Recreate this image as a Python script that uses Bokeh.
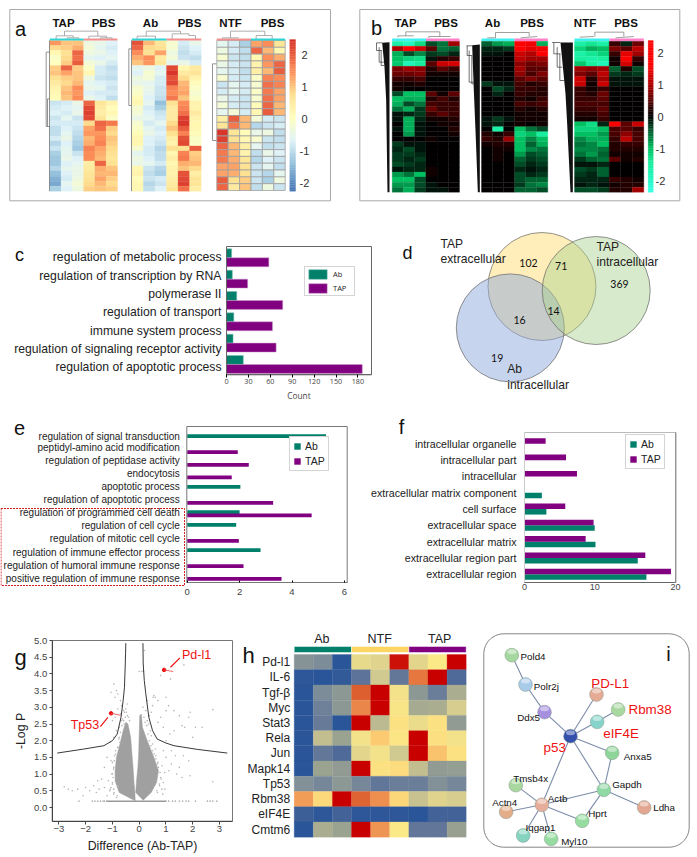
import numpy as np
from bokeh.embed import file_html
from bokeh.resources import INLINE
from bokeh.plotting import figure
from bokeh.layouts import row, column
from bokeh.models import (Range1d, LinearColorMapper, ColumnDataSource, Legend, LegendItem,
                          FixedTicker, LinearAxis)
from bokeh.core.properties import value

# ---------- DATA ----------
a_tap = [[1.4,1.0,1.0,-0.4,-0.5,-0.7],[0.8,0.9,1.2,-0.3,-0.6,-0.8],[0.2,0.7,1.9,-0.4,-0.5,-0.7],[-0.1,0.8,1.8,-0.6,-0.7,-0.6],
[0.0,0.9,2.0,-0.3,-0.5,-0.8],[0.9,1.9,0.9,-0.1,-0.8,-1.0],[1.0,1.3,1.0,0.2,-0.8,-0.9],[0.7,0.9,1.0,-0.4,-0.9,-1.0],
[0.5,0.8,1.1,-0.6,-0.7,-0.8],[0.3,1.0,1.5,-0.5,-0.6,-0.9],[0.2,1.1,1.4,-0.7,-0.8,-0.8],[0.1,1.0,1.5,-0.5,-0.7,-1.0],
[-0.9,-0.8,-0.5,1.9,0.6,0.3],[-0.8,-0.7,-0.6,2.2,0.5,0.1],[-0.7,-0.8,-0.5,2.3,0.4,0.2],[-0.9,-0.6,-0.9,2.2,0.6,-0.1],
[-0.8,-0.8,-0.8,0.8,1.9,1.7],[-1.0,-0.7,-0.9,1.3,1.8,0.9],[-1.0,-0.6,-1.0,1.4,1.4,0.8],[-0.8,-0.5,-1.1,1.1,1.5,1.0],
[-1.1,-0.7,-1.2,1.2,1.6,0.9],[-0.9,-0.6,-1.3,1.6,1.3,0.8],[-1.2,-0.6,-0.9,1.5,1.2,0.7],[-1.3,-0.5,-0.7,1.5,1.1,0.6],
[-1.3,-0.7,-0.6,0.4,1.9,0.7],[-1.1,-0.6,-0.5,0.5,1.2,1.0],[-1.4,-0.7,-0.5,0.6,1.1,1.1],[-1.6,-0.8,-0.4,0.7,1.3,0.9],
[-1.7,-0.6,-0.3,0.8,1.1,0.8],[-1.2,-0.7,-0.4,0.9,1.0,0.9]]
a_ab = [[2.1,1.1,0.6,-0.2,-0.8,-0.5],[1.9,0.8,0.7,-0.2,-0.9,-0.7],[1.5,0.7,1.3,-0.4,-1.0,-0.8],[1.2,1.5,0.5,-0.3,-0.9,-1.0],
[1.0,1.4,0.6,-0.6,-0.5,-0.8],[-0.6,-0.4,-0.7,2.2,0.2,0.5],[-0.7,-0.2,-0.6,2.4,0.5,0.6],[-0.4,-0.3,-0.8,2.1,0.8,0.3],
[-0.5,-0.6,-0.8,2.2,1.1,0.1],[-0.2,-0.5,-0.9,1.6,1.2,-0.1],[-0.1,-0.6,-0.9,1.5,1.3,-0.2],[0.1,-0.7,-1.0,1.7,1.0,-0.1],
[0.2,-0.6,-1.4,0.7,1.5,0.3],[-0.2,-0.8,-1.2,0.5,1.6,0.3],[-0.3,-0.7,-0.9,0.5,1.8,0.5],[-0.5,-0.6,-0.8,0.5,2.3,0.3],
[-0.2,-0.8,-0.6,0.8,2.4,0.2],[-0.1,-0.6,-0.8,1.0,2.0,0.2],[0.1,-0.5,-0.7,0.7,1.6,0.1],[0.2,-0.7,-0.8,0.4,2.1,-0.1],
[0.2,-0.7,-0.9,0.3,2.2,-0.1],[-0.2,-0.8,-1.1,0.7,0.7,2.0],[-0.6,-0.8,-1.0,0.2,1.6,0.9],[-0.4,-0.7,-1.0,0.4,1.7,1.0],
[-0.5,-0.6,-0.8,0.2,1.2,1.1],[0.2,-0.9,-1.1,0.3,1.0,0.8],[0.3,-1.0,-1.2,0.3,2.1,0.4],[0.1,-0.9,-0.8,0.4,2.2,0.6],
[0.2,-1.1,-0.9,0.5,2.3,0.6],[0.2,-1.0,-0.7,0.6,1.8,0.4]]
a_ntf = [[-0.6,-0.8,-1.2,1.3,1.5,0.6],[-0.4,-0.8,-1.0,1.9,1.1,0.2],[-0.2,-0.9,-1.0,0.2,1.5,1.2],[-0.5,-0.8,-0.9,0.3,1.4,1.9],
[-0.6,-0.8,-1.0,0.4,1.1,2.0],[-0.2,-0.8,-0.9,-0.1,1.6,1.5],[-0.9,-0.6,-0.8,-0.2,1.8,1.6],[-0.8,-0.6,-0.8,-0.1,1.7,1.3],
[-0.5,-0.8,-0.9,-0.2,1.8,1.3],[-0.3,-0.8,-0.9,0.1,1.9,1.1],[-0.6,-0.3,-0.8,0.2,2.0,1.1],[0.4,2.0,1.1,-0.3,-0.8,-0.9],
[0.6,1.7,1.1,-1.1,-0.9,-0.8],[2.4,0.6,0.1,-0.5,-0.4,-1.0],[2.3,0.7,0.2,-0.2,-0.9,-1.0],[1.9,1.1,0.4,-0.6,-1.0,-0.9],
[1.7,1.1,0.3,-1.0,-0.5,-0.7],[1.7,1.2,0.6,-1.1,-0.7,-0.9],[1.3,1.3,0.7,-0.9,-0.6,-1.0],[1.3,1.2,0.7,-0.9,-1.1,-0.6],
[2.0,0.7,0.9,-0.9,-1.2,-0.4],[1.9,0.5,1.0,-1.0,-0.4,-0.9]]
b_tap = [[-1.6,-1.9,-1.3,-0.4,-0.6,0.9],[1.0,1.6,1.2,0.5,-0.6,-0.5],[-0.9,-0.4,-0.7,-0.3,-0.4,-0.2],[-1.0,-1.2,-1.3,-0.1,0.2,0.3],
[-1.1,-1.8,-1.5,0.5,1.2,1.3],[0.7,0.9,0.8,0.2,0.5,0.3],[0.6,0.6,0.7,0.1,0.1,0.1],[0.3,0.3,0.4,0,0,0],[0.1,0.1,0.2,0,0,0],
[0.1,0,0,0,0,0],[-0.4,-1.0,-1.0,0.5,0.1,0.5],[-1.0,-0.9,-0.9,0.2,0.4,0.2],[-0.9,-0.4,-0.6,0.4,0.3,0.3],[-0.6,-0.9,-0.3,0.6,0.3,0.3],
[-0.1,-0.2,-0.3,0.3,0.5,0.3],[-0.1,-0.9,-0.2,0.1,0.1,0.2],[0,-0.9,-0.1,0,0.1,0.1],[-0.1,-0.9,-0.1,0,0,0.2],[0,-0.8,-0.1,0,0,0.1],
[0,0,0,0.1,0,0],[-0.3,-0.1,-0.1,0,0,0],[-0.2,-0.4,-0.1,0,0,0],[-0.3,-0.3,-0.2,0,0,0],[-0.3,-0.2,-0.3,0,0,0],[-0.4,-0.3,-0.2,0,0,0],
[-0.1,-0.2,-0.2,0.1,0,0],[-0.8,-0.6,-1.0,0.1,0,0],[-1.0,-1.0,-0.4,0,0,0],[-0.8,-0.8,-0.4,-0.1,0,0],[-0.6,-0.9,-0.3,-0.1,-0.1,0]]
b_ab = [[-0.5,-0.8,-0.9,1.8,1.5,-0.9],[-0.2,-0.2,-0.3,1.6,1.4,1.5],[-0.1,-0.1,0,1.2,1.0,1.6],[0,0,0,1.1,0.9,0.9],[0,0,0,0.8,0.6,0.7],
[0,0,0,0.9,0.5,0.5],[0,0,0,0.8,0.4,0.7],[0,0,0,0.5,0.7,0.5],[-0.3,-0.1,-0.1,0.4,0.2,0.3],[0,-0.4,-0.2,0.3,0.3,0.2],[0,-0.2,0,0.3,0.2,0.2],
[0,0,0,0.2,0.1,0.3],[0,0,0,0.4,0.3,0.4],[0,0,0,0.2,0.1,0.2],[0,0,0,0.1,0.1,0.1],[-0.1,-0.3,-0.1,0.1,0.1,0.1],[-0.1,-0.2,0,0.1,0,0.1],
[0,-1.6,0,-1,-0.6,-0.4],[0.2,0.1,0.3,-1.2,-1.0,-1.5],[0.3,0.2,0.9,-1,-0.7,-1],[0.1,0.2,0.2,-1,-0.5,-0.9],[0,0.1,0.1,-1.0,-0.7,-0.6],
[0,0.1,0,-0.8,-0.4,-0.5],[0,0.1,0,-0.5,-0.3,-0.4],[0,0,0,-0.4,-0.2,-0.3],[0,0,0,-0.2,-0.1,-0.2],[0,0,0,-0.4,-0.2,-0.3],
[0,0,0,-0.4,-0.5,-0.5],[0,0,0,-0.3,-0.6,-0.7],[0,0,0,-0.5,-0.5,-0.4]]
b_ntf = [[-1.6,-1.4,-1.6,0.3,-0.2,0.6],[-1.2,-0.9,-1.0,0.7,0.5,1.1],[-1.6,-1.4,-1.2,0.3,1.4,0.9],[-1.5,-1.6,-1.5,0.1,1.8,0.3],
[-1.1,-1.5,-1.8,0.1,1.3,0.1],[0.9,0.8,0.9,-0.5,0.2,-0.4],[0.7,0.5,1.1,-0.3,-0.2,-0.3],[1.2,0.2,0.9,-0.1,-0.1,-0.1],[1.2,0.1,1.2,-0.1,-0.1,-0.1],
[0.3,0.1,0.3,0,0,0],[0.3,0.2,0.6,0,0,0],[0.3,0.3,0.5,0,0,0],[0.4,0.4,0.4,0,0,0],[0.3,0.3,0.5,0,0,0],[0.2,0.2,0.4,0,0,0],[0.1,0.1,0.3,0,0,0],
[-1.0,-1.3,-0.2,1.6,0.5,1.2],[-1.2,-1.2,-1.0,0.4,0.5,0.3],[-1,-1,-0.8,0.4,0.8,0.4],[-0.7,-0.9,-0.9,0.3,1.1,0.4],[-0.6,-0.7,-1.0,0.2,0.3,0.3],
[-0.7,-0.7,-0.6,0.2,0.2,0.2],[-0.6,-0.8,-0.5,0.1,0.1,0.1],[-0.3,-0.5,-0.6,0.5,0.1,0.2],[-0.1,-0.1,-0.2,0,0,0],[-0.4,-0.3,-0.5,0,0,0],
[-0.3,-0.2,-0.5,0,0,0],[-0.2,-0.2,-0.2,0.3,0.2,0.1],[-0.1,-0.2,-0.1,0.1,0.2,0.2],[-0.4,-0.4,-0.3,0.2,0.2,0.9]]

c_labels = ["regulation of metabolic process","regulation of transcription by RNA","polymerase II","regulation of transport",
            "immune system process","regulation of signaling receptor activity","regulation of apoptotic process"]
c_ab = [7,8,14,10,9,23]
c_tap = [58,29,77,63,68,186]
c_ticks = [0,30,60,90,120,150,180]

e_labels = ["regulation of signal transduction","peptidyl-amino acid modification","regulation of peptidase activity","endocytosis",
            "apoptotic process","regulation of apoptotic process","regulation of programmed cell death","regulation of cell cycle",
            "regulation of mitotic cell cycle","regulation of immune effector process","regulation of humoral immune response",
            "positive regulation of immune response"]
e_ab = [5.3,0,0,0,2.03,0,2.0,1.87,0,2.8,0,0]
e_tap = [0,1.93,2.35,1.7,0,3.28,4.75,0,1.97,0,2.15,3.6]

f_labels = ["intracellular organelle","intracellular part","intracellular","extracellular matrix component","cell surface",
            "extracellular space","extracellular matrix","extracellular region part","extracellular region"]
f_tap = [2.8,5.5,6.95,0,5.4,9.15,8.1,16,19.4]
f_ab = [0,0,0,2.3,2.9,9.3,9.4,15,16.15]

g_line_lx = [-0.50,-0.51,-0.52,-0.55,-0.60,-0.68,-0.82,-1.0,-1.32,-2.07,-3.06]
g_line_ly = [4.92,4.6,4.3,3.6,3.2,2.7,2.2,2.0,1.85,1.75,1.63]
g_line_rx = [0.14,0.145,0.15,0.19,0.24,0.36,0.50,0.67,1.0,1.3,2.17,3.29]
g_line_ry = [4.92,4.6,4.3,3.8,3.45,2.7,2.3,2.05,1.93,1.85,1.74,1.63]
g_left_x = [-0.15,-0.75,-0.9,-0.9,-0.85,-0.72,-0.6,-0.5,-0.42,-0.32,-0.27,-0.22,-0.19,-0.16]
g_left_y = [0.2,0.45,0.8,1.1,1.5,1.9,2.3,2.55,2.5,2.1,1.6,1.1,0.7,0.45]
g_right_x = [-0.13,-0.1,-0.05,-0.02,0.0,0.02,0.08,0.12,0.3,0.55,0.72,0.65,0.45,0.15]
g_right_y = [0.45,0.8,1.2,1.6,2.2,2.75,2.8,2.4,2.0,1.5,1.1,0.75,0.45,0.22]
g_x = [0.16,0.1,0.0,0.2,0.8,1.17,1.67,0.55,0.6,0.7,0.52,1.0,1.1,0.5,0.45,0.8,1.0,1.3,1.5,1.9,2.75,1.85,2.1,2.35,1.6,1.7,2.0,1.3,1.15,0.9,0.7,
       1.0,1.2,1.35,1.65,1.85,1.5,1.2,1.9,2.75,1.4,1.6,1.1,1.0,0.9,0.85,0.95,0.8,0.75,0.7,0.85,0.6,0.5,0.42,0.35,0.3,0.25,0.38,0.45,0.62,0.68,
       -0.95,-0.85,-0.8,-0.9,-1.05,-0.7,-0.65,-0.8,-0.9,-0.7,-1.0,-0.75,-0.85,-0.95,-1.1,-1.2,-1.05,-1.3,-1.0,-1.4,-1.55,-1.15,-1.7,-2.0,-2.3,-2.5,
       -2.8,-2.65,-1.5,-1.3,-1.6,-1.85,-2.1,-1.2,-1.1,-1.0,-0.95,-0.98,-0.88,-1.05,-0.75,-0.62,-0.55,-0.58,-0.66,-0.45,-0.5,-0.72,-0.8,-0.92,-1.0,-0.95,-0.85,-0.78,
       0.72,0.78,0.82,0.76,0.68,0.62,0.56,0.5,0.44,0.38,0.33,0.28,0.22,0.18,0.3,0.14,0.66,0.9,0.96,0.88,
       -0.95,-1.0,-1.02,-0.96,-0.93,-0.88,-0.8,-0.76,-0.7,-0.64,-0.58,-0.52,-0.56,-0.48,-0.44,-0.4,-0.36,-0.94,-1.08,-0.82]
g_y = [4.08,4.08,4.07,4.7,3.95,3.85,4.27,3.35,3.3,3.2,3.3,3.3,3.05,3.05,2.85,2.7,2.9,2.9,2.75,2.85,2.93,2.7,2.4,2.4,2.45,2.4,2.1,2.3,2.2,2.4,2.55,
       2.0,1.7,1.55,1.55,1.4,1.2,1.3,0.95,0.77,1.0,0.9,1.1,1.5,1.7,1.25,1.05,0.9,0.7,1.35,0.55,1.75,1.9,2.3,2.5,2.6,2.9,2.75,2.15,1.55,0.45,
       3.7,3.5,3.4,3.3,3.45,3.2,3.05,2.95,2.7,2.8,2.6,2.4,2.3,2.1,1.95,1.5,1.4,1.2,1.0,0.85,0.8,0.8,0.65,0.6,0.55,0.5,
       0.62,0.55,0.55,0.6,0.45,0.5,0.35,0.35,0.5,0.7,1.2,0.9,1.7,0.6,2.1,2.65,2.85,2.9,2.6,3.1,2.95,1.95,1.8,1.55,1.35,0.4,0.3,0.65,
       1.2,1.05,0.85,0.65,1.3,1.45,1.6,1.7,1.85,2.0,2.2,2.45,2.55,2.7,3.2,3.0,0.5,0.75,0.55,0.4,
       0.55,0.75,1.0,1.15,1.4,1.6,1.8,2.05,2.25,2.45,2.6,2.7,2.5,2.85,2.75,2.7,2.6,0.45,0.55,0.35]
g_base_x = [-2.25,-1.75,-1.65,-1.55,-1.45,-1.35,-1.22,-1.3,1.0,1.1,1.25,1.35,1.5,1.62,1.75,1.85,2.1,2.55,2.65,2.75,2.9]
g_base_span = [-1.2,1.0]
g_base_y = 0.19
g_xticks = [-3,-2,-1,0,1,2,3]
g_yticks = [0.0,0.5,1.0,1.5,2.0,2.5,3.0,3.5,4.0,4.5,5.0]

h_rows = ["Pd-l1","IL-6","Tgf-\u03b2","Myc","Stat3","Rela","Jun","Mapk14","Tp53","Rbm38","eIF4E","Cmtm6"]
h_groups = ["Ab","NTF","TAP"]
h_values = [[2.3,2,0,4.5,4.3,8.8,4.4,5,9],[0.1,0,0.2,1.1,4,1.3,7.5,9,0.8],[0,2,2.5,8,9,4.8,2.5,1.5,3.3],[0,1.6,2.5,7.2,9,4.9,3.2,3.3,4.1],
[0,1.4,0,9,3.6,5.3,4.6,5.3,2.7],[0,3.7,3,4.8,6.1,5.1,9,5.4,4.8],[0,1.3,0.8,4.4,4.8,4,9,6.2,5.3],[0,3,2.7,9,5.3,5.5,3.7,2.7,2.8],
[2.2,1.8,2.5,1.8,1.2,1.5,1.5,2.2,1.8],[6.8,5.6,9,7.9,7,5.7,3.8,4.3,4.1],[0.4,0.1,0.5,0.1,0.1,0.1,0,0.5,0.5],[0,3.3,3,9,6.9,5,1.2,1.2,2.9]]

i_names = ["Pold4","Polr2j","Ddx5","PD-L1","Rbm38","eIF4E","p53","Anxa5","Gapdh","Ldha","Actb","Hprt","Tmsb4x","Actn4","Iqgap1","Myl10"]
i_edges = [("Pold4","Polr2j"),("Polr2j","Ddx5"),("Ddx5","p53"),("p53","PD-L1"),("p53","eIF4E"),("eIF4E","Rbm38"),("p53","Anxa5"),("p53","Gapdh"),
           ("Anxa5","Gapdh"),("p53","Actb"),("Gapdh","Actb"),("Gapdh","Ldha"),("Gapdh","Hprt"),("Actb","Tmsb4x"),("Actb","Actn4"),("Actb","Iqgap1"),("Actb","Myl10"),("Actb","Hprt")]

d_numbers = ["102","71","369","16","14","19"]

# ---------- STYLE ----------
SANS = "Liberation Sans"
AB = "#00806a"
TAP = "#800080"

def interp_palette(stops, n=256):
    pos = np.array([s[0] for s in stops], float)
    rgb = np.array([[int(s[1][i:i+2], 16) for i in (1, 3, 5)] for s in stops], float)
    t = np.linspace(pos[0], pos[-1], n)
    return ["#%02x%02x%02x" % tuple(int(round(np.interp(v, pos, rgb[:, k]))) for k in range(3)) for v in t]

map_a = LinearColorMapper(palette=interp_palette([(-2.27,"#4575b4"),(-1.45,"#91bfdb"),(-0.7,"#e0f3f8"),(0.0,"#ffffbf"),(0.75,"#fee090"),(1.5,"#fc8d59"),(2.47,"#d73027")]),
                          low=-2.27, high=2.47)
map_b = LinearColorMapper(palette=interp_palette([(-2.35,"#2effe0"),(-1.5,"#18f0a0"),(-1.0,"#00c060"),(-0.5,"#006030"),(0,"#000000"),(0.5,"#5a0000"),(1.0,"#b00000"),(1.6,"#ff0000"),(2.35,"#ff0000")]),
                          low=-2.35, high=2.35)
map_h = LinearColorMapper(palette=interp_palette([(0,"#2a5598"),(1,"#5a7099"),(2,"#7d8d99"),(3,"#9aa290"),(4,"#d2ca90"),(5,"#fbe887"),(6,"#fcd175"),(7,"#ee9050"),(8,"#dd5f30"),(9,"#c80000")]),
                          low=0, high=9)

def canvas(x0, y0, w, h):
    p = figure(width=w, height=h, x_range=Range1d(x0, x0+w), y_range=Range1d(y0+h, y0), x_axis_type=None, y_axis_type=None,
               output_backend="svg", toolbar_location=None, min_border=0, outline_line_color=None)
    p.grid.visible = False
    return p

class Panel:
    """A figure whose frame fills it; data scales are set so that the plot area lands where the reference has it."""
    def __init__(self, x0, y0, w, h, xa, xb, ya, yb):
        self.xa, self.xb, self.ya, self.yb = xa, xb, ya, yb
        self.p = figure(width=w, height=h, x_range=Range1d((x0-xa)/xb, (x0+w-xa)/xb),
                        y_range=Range1d((y0+h-ya)/yb, (y0-ya)/yb), x_axis_type=None, y_axis_type=None,
                        output_backend="svg", toolbar_location=None, min_border=0, outline_line_color=None)
        self.p.grid.visible = False
    def X(self, px): return (px-self.xa)/self.xb
    def Y(self, py): return (py-self.ya)/self.yb
    def frame(self, l, r, t, b, color, dash="solid", width=1):
        self.p.quad(left=self.X(l), right=self.X(r), top=self.Y(t), bottom=self.Y(b), fill_color=None, line_color=color, line_dash=dash, line_width=width)
    def letter(self, x, y, s, size):
        txt(self.p, self.X(x), self.Y(y), s, size)
    def label_axis(self, frame_left, ticks, labels, size, standoff):
        ax = LinearAxis(ticker=FixedTicker(ticks=ticks), major_label_overrides={float(t): s for t, s in zip(ticks, labels)},
                        fixed_location=self.X(frame_left), major_label_text_font=SANS, major_label_text_font_size=f"{size}px",
                        major_label_text_color="#222222", major_label_standoff=standoff, major_tick_line_color=None,
                        major_tick_out=0, major_tick_in=0, minor_tick_line_color=None, axis_line_color=None)
        self.p.add_layout(ax, "left")
    def bottom_axis(self, frame_bottom, l, r, ticks, overrides=None, **kw):
        ax = LinearAxis(ticker=FixedTicker(ticks=ticks), fixed_location=self.Y(frame_bottom), bounds=(self.X(l), self.X(r)),
                        minor_tick_line_color=None, **kw)
        if overrides:
            ax.major_label_overrides = overrides
        self.p.add_layout(ax, "below")
        return ax

def txt(p, x, y, s, size, color="#111111", font=SANS, bold=False, align="center"):
    p.text([x], [y], text=[s], text_font=value(font), text_font_size=f"{size}px", text_color=color,
           text_align=align, text_baseline="middle", text_font_style="bold" if bold else "normal")

def heat(p, M, x0, x1, y0, y1, mapper, line=None, lw=0.3):
    M = np.array(M)
    nr, nc = M.shape
    xs = np.linspace(x0, x1, nc+1); ys = np.linspace(y0, y1, nr+1)
    rr, cc = np.indices(M.shape)
    src = ColumnDataSource(dict(left=xs[cc.ravel()], right=xs[cc.ravel()+1], top=ys[rr.ravel()], bottom=ys[rr.ravel()+1], v=M.ravel()))
    tr = {"field": "v", "transform": mapper}
    p.quad(left="left", right="right", top="top", bottom="bottom", source=src, fill_color=tr,
           line_color=line if line else tr, line_width=lw)

def colorbar(p, x0, x1, y0, y1, mapper):
    n = 90
    ys = np.linspace(y0, y1, n+1)
    vals = np.linspace(mapper.high, mapper.low, n)
    src = ColumnDataSource(dict(top=ys[:-1], bottom=ys[1:], v=vals))
    tr = {"field": "v", "transform": mapper}
    p.quad(left=x0, right=x1, top="top", bottom="bottom", source=src, fill_color=tr, line_color=tr, line_width=0.3)

def lines(p, segs, ox, oy, color, width=0.8, scale=3.0):
    xs = [[ox+a/scale for a, b in s] for s in segs]
    ys = [[oy+b/scale for a, b in s] for s in segs]
    p.multi_line(xs, ys, line_color=color, line_width=width)

def legend(p, r1, r2, x, y, gw, gh, size, font, lh, pad=3, sp=1):
    lg = Legend(items=[LegendItem(label="Ab", renderers=[r1]), LegendItem(label="TAP", renderers=[r2])], location=(x, y),
                glyph_width=gw, glyph_height=gh, label_text_font=font, label_text_font_size=f"{size}px", label_height=lh,
                label_standoff=4, margin=0, padding=pad, spacing=sp, border_line_color="#aaaaaa", border_line_width=1,
                background_fill_alpha=1, label_text_color="#222222")
    p.add_layout(lg)

# ---------- PANEL a ----------
pa = canvas(0, 0, 340, 218)
pa.quad(left=9.3, right=330, top=9, bottom=200.3, fill_color=None, line_color="#a8a8a8", line_width=1)
heat(pa, a_tap, 49.3, 117, 40, 190.7, map_a)
heat(pa, a_ab, 131.3, 200.7, 40, 190.7, map_a)
heat(pa, a_ntf, 216.3, 284.7, 40, 190, map_a, line="#a0a0a0", lw=0.8)
colorbar(pa, 289.3, 295, 39, 190.7, map_a)
for x0, xm, x1, c1, c2 in [(49.3, 83.2, 117, "#2fd5d5", "#f29090"), (131.3, 166, 200.7, "#2fd5d5", "#f29090"), (216.3, 250.5, 284.7, "#f29090", "#2fd5d5")]:
    pa.quad(left=x0, right=xm, top=38, bottom=40, fill_color=c1, line_color=None)
    pa.quad(left=xm, right=x1, top=38, bottom=40, fill_color=c2, line_color=None)
lines(pa, [[(167,115),(167,106),(218,106),(218,112)],[(192,106),(192,92),(292,92),(292,107)],[(265,115),(265,107),(318,107),(318,112)],
           [(200,115),(200,112),(235,112),(235,115)],[(300,115),(300,112),(335,112),(335,115)],
           [(410,115),(410,107),(465,107),(465,115)],[(437,107),(437,92),(540,92),(540,100)],[(515,115),(515,100),(565,100),(565,105),(585,105),(585,115)],
           [(665,113),(665,112),(715,112)],[(690,112),(690,92),(793,92),(793,105)],[(767,115),(767,105),(815,105),(815,115)]], 0, 0, "#999999", 0.8)
lines(pa, [[(148,155),(137,155),(137,378),(148,378)],[(148,295),(141,295),(141,378)],[(147,120),(147,572)],
           [(393,145),(385,145),(385,315),(393,315)],[(393,120),(393,572)],[(648,190),(636,190),(636,420),(648,420)]], 0, 0, "#777777", 0.8)
for x, y, s in [(63,22,"TAP"),(103,22,"PBS"),(150,22,"Ab"),(189,22,"PBS"),(230,22,"NTF"),(272,22,"PBS")]:
    txt(pa, x, y, s, 11.5, bold=True)
for y, s in [(54,"2"),(86,"1"),(118,"0"),(150,"-1"),(182,"-2")]:
    txt(pa, 304, y, s, 11, color="#333333")
txt(pa, 20, 28, "a", 20)

# ---------- PANEL b ----------
pb = canvas(340, 0, 357, 218)
pb.quad(left=359.3, right=679.3, top=9, bottom=200.3, fill_color=None, line_color="#a8a8a8", line_width=1)
heat(pb, b_tap, 391.7, 459, 40.7, 191.7, map_b)
heat(pb, b_ab, 481, 547.3, 40.7, 191.7, map_b)
heat(pb, b_ntf, 574, 643.3, 40.7, 191.7, map_b)
colorbar(pb, 647.7, 652.7, 40, 191.7, map_b)
for x0, xm, x1 in [(391.7, 425.5, 459), (481, 514, 547.3), (574, 609, 643.3)]:
    pb.quad(left=x0, right=xm, top=38, bottom=40.5, fill_color="#40f0f0", line_color=None)
    pb.quad(left=xm, right=x1, top=38, bottom=40.5, fill_color="#ff80c8", line_color=None)
for pts in [[(125,127),(147,125),(147,575),(141,575),(137,300),(132,200)],
            [(395,134),(418,132),(418,575),(412,575),(405,390),(400,270)],
            [(660,126),(697,126),(697,575),(690,575),(680,370),(675,280)]]:
    pb.patch([340+a/3 for a, b in pts], [b/3 for a, b in pts], fill_color="#111111", line_color=None)
lines(pb, [[(108,127),(125,127)],[(108,127),(108,150),(125,150)],[(116,140),(116,185),(130,185)],[(122,150),(122,195),(132,195)],
           [(378,136),(395,136)],[(380,136),(380,165),(395,165)],[(386,150),(386,245),(400,245)],[(394,165),(394,250),(400,250)],
           [(635,126),(660,126)],[(640,126),(640,160),(660,160)],[(650,140),(650,200),(665,200)],[(658,160),(658,240),(672,240)]], 340, 0, "#333333", 0.7)
lines(pb, [[(172,110),(172,106),(220,106)],[(196,106),(196,94),(298,94),(298,108)],[(265,113),(265,108),(330,108)],
           [(440,112),(465,112)],[(465,112),(465,96),(566,96),(566,108)],[(540,112),(590,108)],
           [(718,110),(760,108)],[(763,108),(763,95),(850,95),(850,108)],[(825,112),(880,108)]], 340, 0, "#777777", 0.7)
for x, y, s in [(405,22,"TAP"),(445.5,22,"PBS"),(492,22,"Ab"),(531.5,22,"PBS"),(584.5,22,"NTF"),(625.5,22,"PBS")]:
    txt(pb, x, y, s, 11.5, bold=True)
for y, s in [(52.3,"2"),(84.3,"1"),(116,"0"),(148,"-1"),(180,"-2")]:
    txt(pb, 660, y, s, 11, color="#333333")
txt(pb, 376, 27, "b", 20)

# ---------- PANEL c ----------
C = Panel(0, 218, 400, 192, 226, 0.73, 257.3, 21.33)
pc = C.p
ks = np.arange(len(c_ab))
rc1 = pc.hbar(y=ks-0.21, right=c_ab, height=0.42, left=0, fill_color=AB, line_color="#7fbfb4", line_width=0.5)
rc2 = pc.hbar(y=ks+0.21, right=c_tap, height=0.42, left=0, fill_color=TAP, line_color="#cf9fcf", line_width=0.5)
C.frame(226, 371, 246, 374.3, "#666666")
C.label_axis(226, [-0.03,0.83,1.69,2.55,3.41,4.27,5.13], c_labels, 12.2, 5)
C.bottom_axis(374.3, 226, 371, c_ticks, major_label_text_font="Open Sans", major_label_text_font_size="7.2px", major_tick_out=3,
              major_tick_in=0, major_label_standoff=1, axis_line_color="#666666", axis_label="Count", axis_label_text_font="Open Sans",
              axis_label_text_font_size="8.3px", axis_label_text_font_style="normal", axis_label_standoff=3)
legend(pc, rc1, rc2, 304, 114, 23, 12, 7.5, "Open Sans", 12, pad=1, sp=2)
C.letter(19, 254, "c", 18)

# ---------- PANEL d ----------
pd = canvas(400, 218, 297, 192)
pd.circle(x=[541.5], y=[286], radius=54, fill_color="#ffd966", fill_alpha=0.45, line_color="#666666", line_width=0.7)
pd.circle(x=[509.8], y=[327.4], radius=54, fill_color="#8faadc", fill_alpha=0.5, line_color="#666666", line_width=0.7)
pd.circle(x=[595.7], y=[290], radius=54, fill_color="#a9d18e", fill_alpha=0.45, line_color="#666666", line_width=0.7)
for (x, y), s in zip([(528,262),(560.7,265),(619,283),(519,319),(553,310),(496.7,357.7)], d_numbers):
    txt(pd, x, y, s, 10.5, font="Lato")
for x, y, s in [(440,243,"TAP"),(440,258,"extracellular"),(596,246.7,"TAP"),(596,261.7,"intracellular"),(506.7,368,"Ab"),(506.7,384,"intracellular")]:
    txt(pd, x, y, s, 12.1, align="left", color="#222222")
txt(pd, 407, 252, "d", 18)

# ---------- PANEL e ----------
E = Panel(0, 410, 360, 205, 186.7, 26.2, 437.3, 12.67)
pe = E.p
ks = np.arange(len(e_ab))
re1 = pe.hbar(y=ks-0.13, right=e_ab, height=0.3, left=0, fill_color=AB, line_color=None)
re2 = pe.hbar(y=ks+0.13, right=e_tap, height=0.3, left=0, fill_color=TAP, line_color=None)
E.frame(186.3, 346.7, 426, 582, "#777777")
E.frame(0.5, 184, 508, 585, "#d02020", dash="2 1")
E.label_axis(186.3, [-0.13,0.74,1.76,2.82,3.84,4.89,5.92,6.95,7.97,9.03,10.05,11.08], e_labels, 10.0, 7)
E.bottom_axis(582, 186.3, 346.7, [0,2,4,6], major_label_text_font=SANS, major_label_text_font_size="9.5px", major_tick_in=2, major_tick_out=0,
              major_label_standoff=6, axis_line_color="#777777")
legend(pe, re1, re2, 289, 144, 8, 8, 10.5, SANS, 9, pad=3, sp=3)
E.letter(19, 427, "e", 20)

# ---------- PANEL f ----------
F = Panel(360, 410, 337, 205, 524, 7.55, 443.33, 16.3)
pf = F.p
ks = np.arange(len(f_ab))
rf1 = pf.hbar(y=ks+0.17, right=f_ab, height=0.34, left=0, fill_color=AB, line_color=None)
rf2 = pf.hbar(y=ks-0.17, right=f_tap, height=0.34, left=0, fill_color=TAP, line_color=None)
pf.multi_line([[F.X(524),F.X(675.3)],[F.X(675.3),F.X(675.3)],[F.X(524),F.X(524)]],[[F.Y(432),F.Y(432)],[F.Y(432),F.Y(582.3)],[F.Y(432),F.Y(582.3)]],
              line_color=["#bbbbbb","#666666","#cccccc"], line_width=1)
F.label_axis(524, list(range(len(f_labels))), f_labels, 10.7, 8)
F.bottom_axis(582.3, 524, 675.3, [0,9.3,20], overrides={0: "0", 9.3: "10", 20: "20"}, major_label_text_font=SANS, major_label_text_font_size="9px",
              major_tick_line_color=None, major_tick_out=0, major_tick_in=0, major_label_standoff=1, axis_line_color="#666666")
legend(pf, rf1, rf2, 265, 146, 8, 8, 10.5, SANS, 9, pad=3, sp=3)
F.letter(401, 426, "f", 20)

# ---------- PANEL g ----------
G = Panel(0, 615, 240, 242, 138.7, 26.77, 807, -33.4)
pg = G.p
pg.patch(g_left_x, g_left_y, fill_color="#a0a0a0", line_color="#a0a0a0", line_width=0.5)
pg.patch(g_right_x, g_right_y, fill_color="#a0a0a0", line_color="#a0a0a0", line_width=0.5)
pg.line(g_base_span, [g_base_y, g_base_y], line_color="#9a9a9a", line_width=1.5)
pg.scatter(g_base_x, [g_base_y]*len(g_base_x), size=1.6, color="#aaaaaa", line_color=None)
pg.scatter(g_x, g_y, size=1.6, color="#b4b4b4", line_color=None)
pg.line(g_line_lx, g_line_ly, line_color="#222222", line_width=0.9)
pg.line(g_line_rx, g_line_ry, line_color="#222222", line_width=0.9)
pg.scatter([0.93], [4.12], size=3.5, color="#ee1111")
pg.scatter([-1.05], [2.82], size=3.5, color="#ee1111")
pg.line([0.93,1.27], [4.12,4.07], line_color="#ee4444", line_width=0.8)
pg.line([-1.05,-0.7], [2.82,2.76], line_color="#ee4444", line_width=0.8)
pg.line([1.52,1.17], [4.48,4.2], line_color="#ee1111", line_width=1.2)
pg.line([-1.45,-1.17], [2.42,2.7], line_color="#ee1111", line_width=1.2)
pg.text([1.6], [4.56], text=["Pd-l1"], text_font=value(SANS), text_font_size="12.5px", text_color="#ee1111", text_baseline="middle")
pg.text([-2.56], [2.47], text=["Tp53"], text_font=value(SANS), text_font_size="12.5px", text_color="#ee1111", text_baseline="middle")
G.frame(51.7, 232, 640, 820.7, "#777777")
G.bottom_axis(820.7, 51.7, 232, g_xticks, major_label_text_font=SANS, major_label_text_font_size="9.5px", major_tick_out=3, major_tick_in=0,
              axis_line_color="#444444", major_tick_line_color="#444444", major_label_standoff=2, axis_label="Difference (Ab-TAP)",
              axis_label_text_font=SANS, axis_label_text_font_size="12.3px", axis_label_text_font_style="normal",
              axis_label_text_color="#222222", axis_label_standoff=3)
gy = LinearAxis(ticker=FixedTicker(ticks=g_yticks), fixed_location=G.X(51.7), bounds=(G.Y(820.7), G.Y(640)),
                major_label_overrides={t: f"{t:.1f}" for t in g_yticks}, major_label_text_font=SANS, major_label_text_font_size="9.5px",
                major_tick_out=3, major_tick_in=0, minor_tick_line_color=None, axis_line_color="#444444", major_tick_line_color="#444444",
                major_label_standoff=2, axis_label="-Log P", axis_label_text_font=SANS, axis_label_text_font_size="12.3px",
                axis_label_text_font_style="normal", axis_label_text_color="#222222", axis_label_standoff=3)
pg.add_layout(gy, "left")
G.letter(20, 657, "g", 22)

# ---------- PANEL h ----------
H = Panel(240, 615, 230, 242, 293.7, 19.11, 654, 15.225)
ph = H.p
heat(ph, h_values, 0, 9, 0, 12, map_h)
for i, (nm, col) in enumerate(zip(h_groups, [AB, "#fdd562", TAP])):
    ph.quad(left=3*i, right=3*i+3, top=-0.53, bottom=-0.13, fill_color=col, line_color="#ffffff", line_width=0.5)
    ph.text([3*i+[1.45,1.47,1.61][i]], [-1.05], text=[nm], text_font=value(SANS), text_font_size="12.5px", text_align="center",
            text_baseline="middle", text_color="#222222")
H.label_axis(293.7, [r+0.5 for r in range(12)], h_rows, 12, 4)
H.letter(248, 655, "h", 22)

# ---------- PANEL i ----------
pi = canvas(470, 615, 227, 242)
z = 3.0
pos = {"Pold4":(124,104),"Polr2j":(165,192),"Ddx5":(222,275),"PD-L1":(378,222),"Rbm38":(443,267),"eIF4E":(380,304),"p53":(300,347),
       "Anxa5":(425,397),"Gapdh":(400,508),"Ldha":(521,561),"Actb":(214,553),"Hprt":(335,601),"Tmsb4x":(136,494),"Actn4":(107,574),
       "Iqgap1":(158,645),"Myl10":(242,655)}
cols = {"Pold4":"#a5d89f","Polr2j":"#a9cbea","Ddx5":"#a78fe0","PD-L1":"#e5ab95","Rbm38":"#a9d89f","eIF4E":"#86d3cb","p53":"#3350ac",
        "Anxa5":"#8fd59a","Gapdh":"#90d8a4","Ldha":"#e3a690","Actb":"#e6ae9a","Hprt":"#96dca0","Tmsb4x":"#a8d8a0","Actn4":"#e3ad8a",
        "Iqgap1":"#86d3c0","Myl10":"#96dca0"}
PX = lambda v: 470+v/z
PY = lambda v: 620+v/z
R = 20.0
fx0, fx1, fy0, fy1 = 483.3, 688.7, 633.3, 846.7
ang = np.linspace(0, np.pi/2, 12)
fr_x = np.concatenate([fx1-R+R*np.sin(ang), fx1-R+R*np.cos(ang), fx0+R-R*np.sin(ang), fx0+R-R*np.cos(ang)])
fr_y = np.concatenate([fy0+R-R*np.cos(ang), fy1-R+R*np.sin(ang), fy1-R+R*np.cos(ang), fy0+R-R*np.sin(ang)])
pi.patch(fr_x, fr_y, fill_color=None, line_color="#777777", line_width=0.9)
pi.multi_line([[PX(pos[a][0]), PX(pos[b][0])] for a, b in i_edges], [[PY(pos[a][1]), PY(pos[b][1])] for a, b in i_edges],
              line_color="#7c8ca8", line_width=1.1)
nx = [PX(pos[n][0]) for n in i_names]; ny = [PY(pos[n][1]) for n in i_names]
pi.circle(nx, ny, radius=6.9, fill_color=[cols[n] for n in i_names], line_color="#8a9a90", line_width=0.5)
pi.ellipse(nx, [y-3.4 for y in ny], width=9, height=5, fill_color="#ffffff", fill_alpha=0.45, line_color=None)
for n, x, y in [("Pold4",520,656),("Polr2j",533.3,685.7),("Ddx5",516.7,716.7),("Anxa5",623.3,756),("Tmsb4x",512.7,777.7),("Gapdh",611.7,784),
                ("Actb",547.3,798.3),("Actn4",491.7,802.3),("Ldha",652.7,807),("Hprt",587.7,812.7),("Iqgap1",525,827.3),("Myl10",560.7,840.7)]:
    txt(pi, x, y, n, 9.8, align="left")
for n, x, y, s in [("PD-L1",590.7,683,13.4),("Rbm38",628,709,13.4),("eIF4E",602.7,733,13.4),("p53",543,746.7,13.4)]:
    txt(pi, x, y, n, s, color="#ee1111", align="left")
txt(pi, 668, 653, "i", 20)

root = column(row(pa, pb), row(pc, pd), row(pe, pf), row(pg, ph, pi))
open("out.html", "w").write(file_html(root, INLINE))
